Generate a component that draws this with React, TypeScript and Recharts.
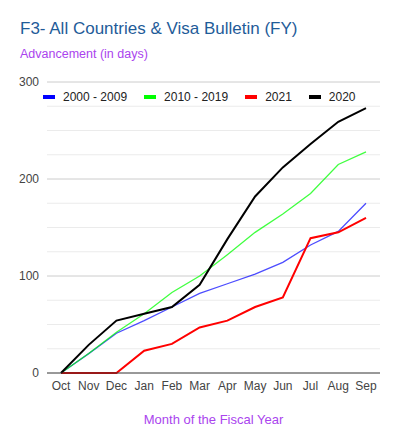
import React from 'react';
import { LineChart, Line, XAxis, YAxis, ReferenceLine } from 'recharts';

const months = ['Oct', 'Nov', 'Dec', 'Jan', 'Feb', 'Mar', 'Apr', 'May', 'Jun', 'Jul', 'Aug', 'Sep'];
const s2000_2009 = [0, 20, 41, 54, 68, 82, 92, 102, 114, 132, 146, 175];
const s2010_2019 = [0, 20, 42, 61, 83, 100, 122, 145, 164, 185, 215, 228];
const s2021 = [0, 0, 0, 23, 30, 47, 54, 68, 78, 139, 145, 160];
const s2020 = [0, 29, 54, 61, 68, 91, 138, 182, 212, 236, 259, 273];
const yTicks = [0, 100, 200, 300];
const minorGrid = [25, 50, 75, 125, 150, 175, 225, 250, 275];
const majorGrid = [100, 200, 300];

const seriesMeta = [
  { key: 's2000_2009', name: '2000 - 2009', color: '#0000ff', width: 1.3, opacity: 0.7 },
  { key: 's2010_2019', name: '2010 - 2019', color: '#00ff00', width: 1.3, opacity: 0.75 },
  { key: 's2021', name: '2021', color: '#ff0000', width: 2, opacity: 1 },
  { key: 's2020', name: '2020', color: '#000000', width: 2, opacity: 1 },
];

const data = months.map((m, i) => ({
  month: m,
  s2000_2009: s2000_2009[i],
  s2010_2019: s2010_2019[i],
  s2021: s2021[i],
  s2020: s2020[i],
}));

const FONT = 'Arial, "Liberation Sans", sans-serif';

export default function App() {
  return (
    <div style={{ position: 'absolute', left: 0, top: 0, width: 400, height: 447, background: '#fff', fontFamily: FONT }}>
      <div style={{ position: 'absolute', left: 20, top: 19, fontSize: 17, color: '#1f5c99', whiteSpace: 'nowrap' }}>
        F3- All Countries &amp; Visa Bulletin (FY)
      </div>
      <div style={{ position: 'absolute', left: 20, top: 47, fontSize: 12.5, color: '#aa44ee', whiteSpace: 'nowrap' }}>
        Advancement (in days)
      </div>
      <LineChart width={400} height={447} data={data} margin={{ top: 82, right: 20, bottom: 44, left: 0 }}>
        {minorGrid.map((v) => (
          <ReferenceLine key={'mi' + v} y={v} stroke="#ebebeb" strokeWidth={1} />
        ))}
        {majorGrid.map((v) => (
          <ReferenceLine key={'ma' + v} y={v} stroke="#cccccc" strokeWidth={1} />
        ))}
        <XAxis
          dataKey="month"
          height={30}
          padding={{ left: 14, right: 14 }}
          axisLine={{ stroke: '#333333', strokeWidth: 1 }}
          tickLine={false}
          tick={{ fill: '#444444', fontSize: 12, fontFamily: FONT }}
          interval={0}
        />
        <YAxis
          domain={[0, 300]}
          ticks={yTicks}
          width={47}
          axisLine={false}
          tickLine={false}
          tick={{ fill: '#444444', fontSize: 12, fontFamily: FONT }}
        />
        {seriesMeta.map((s) => (
          <Line
            key={s.key}
            type="linear"
            dataKey={s.key}
            name={s.name}
            stroke={s.color}
            strokeWidth={s.width}
            strokeOpacity={s.opacity}
            dot={false}
            activeDot={false}
            isAnimationActive={false}
          />
        ))}
      </LineChart>
      <div style={{ position: 'absolute', left: 43, top: 90, display: 'flex', alignItems: 'center', fontSize: 12, color: '#222222' }}>
        {seriesMeta.map((s) => (
          <div key={s.key} style={{ display: 'flex', alignItems: 'center', marginRight: 17 }}>
            <div style={{ width: 12, height: 4, background: s.color, marginRight: 8 }} />
            <span style={{ whiteSpace: 'nowrap' }}>{s.name}</span>
          </div>
        ))}
      </div>
      <div style={{ position: 'absolute', left: 0, width: 427, top: 412, textAlign: 'center', fontSize: 13, color: '#aa44ee', whiteSpace: 'nowrap' }}>
        Month of the Fiscal Year
      </div>
    </div>
  );
}
